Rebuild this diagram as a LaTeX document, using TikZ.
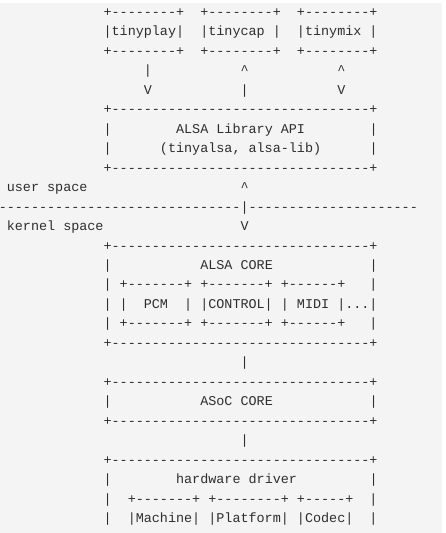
\documentclass[tikz,border=0pt]{standalone}
\usepackage{fontspec}
\setmonofont{Liberation Mono}
\definecolor{bg}{HTML}{F4F4F4}
\definecolor{txt}{HTML}{2E2E2E}
\begin{document}
\begin{tikzpicture}[x=1pt,y=-1pt,
  ln/.style={anchor=base west, inner sep=0pt, outer sep=0pt, text=txt,
    font=\fontsize{13.43}{19.47}\selectfont\ttfamily}]
\def\cw{8.06}
\def\xo{-1.2}
\def\yo{16.4}
\def\lh{19.47}
\useasboundingbox (0,0) rectangle (445,533);
\fill[white] (0,0) rectangle (445,533);
\fill[bg] (0,3) rectangle (442,533);
% row r (1-based), column c (0-based)
\node[ln] (r1)  at ({\xo+13*\cw},{\yo+0*\lh})  {+--------+~~+--------+~~+--------+};
\node[ln] (r2)  at ({\xo+13*\cw},{\yo+1*\lh})  {|tinyplay|~~|tinycap~|~~|tinymix~|};
\node[ln] (r3)  at ({\xo+13*\cw},{\yo+2*\lh})  {+--------+~~+--------+~~+--------+};
\node[ln] (r4a) at ({\xo+18*\cw},{\yo+3*\lh})  {|};
\node[ln] (r4b) at ({\xo+30*\cw},{\yo+3*\lh})  {\textasciicircum};
\node[ln] (r4c) at ({\xo+42*\cw},{\yo+3*\lh})  {\textasciicircum};
\node[ln] (r5a) at ({\xo+18*\cw},{\yo+4*\lh})  {V};
\node[ln] (r5b) at ({\xo+30*\cw},{\yo+4*\lh})  {|};
\node[ln] (r5c) at ({\xo+42*\cw},{\yo+4*\lh})  {V};
\node[ln] (r6)  at ({\xo+13*\cw},{\yo+5*\lh})  {+--------------------------------+};
\node[ln] (r7)  at ({\xo+13*\cw},{\yo+6*\lh})  {|~~~~~~~~ALSA Library API~~~~~~~~|};
\node[ln] (r8)  at ({\xo+13*\cw},{\yo+7*\lh})  {|~~~~~~(tinyalsa, alsa-lib)~~~~~~|};
\node[ln] (r9)  at ({\xo+13*\cw},{\yo+8*\lh})  {+--------------------------------+};
\node[ln] (r10a) at ({\xo+1*\cw},{\yo+9*\lh})  {user~space};
\node[ln] (r10b) at ({\xo+30*\cw},{\yo+9*\lh}) {\textasciicircum};
\node[ln] (r11) at ({\xo+0*\cw},{\yo+10*\lh})  {------------------------------|---------------------};
\node[ln] (r12a) at ({\xo+1*\cw},{\yo+11*\lh}) {kernel~space};
\node[ln] (r12b) at ({\xo+30*\cw},{\yo+11*\lh}) {V};
\node[ln] (r13) at ({\xo+13*\cw},{\yo+12*\lh}) {+--------------------------------+};
\node[ln] (r14) at ({\xo+13*\cw},{\yo+13*\lh}) {|~~~~~~~~~~~ALSA CORE~~~~~~~~~~~~|};
\node[ln] (r15) at ({\xo+13*\cw},{\yo+14*\lh}) {|~+-------+~+-------+~+------+~~~|};
\node[ln] (r16) at ({\xo+13*\cw},{\yo+15*\lh}) {|~|~~PCM~~|~|CONTROL|~|~MIDI~|...|};
\node[ln] (r17) at ({\xo+13*\cw},{\yo+16*\lh}) {|~+-------+~+-------+~+------+~~~|};
\node[ln] (r18) at ({\xo+13*\cw},{\yo+17*\lh}) {+--------------------------------+};
\node[ln] (r19) at ({\xo+30*\cw},{\yo+18*\lh}) {|};
\node[ln] (r20) at ({\xo+13*\cw},{\yo+19*\lh}) {+--------------------------------+};
\node[ln] (r21) at ({\xo+13*\cw},{\yo+20*\lh}) {|~~~~~~~~~~~ASoC CORE~~~~~~~~~~~~|};
\node[ln] (r22) at ({\xo+13*\cw},{\yo+21*\lh}) {+--------------------------------+};
\node[ln] (r23) at ({\xo+30*\cw},{\yo+22*\lh}) {|};
\node[ln] (r24) at ({\xo+13*\cw},{\yo+23*\lh}) {+--------------------------------+};
\node[ln] (r25) at ({\xo+13*\cw},{\yo+24*\lh}) {|~~~~~~~~hardware driver~~~~~~~~~|};
\node[ln] (r26) at ({\xo+13*\cw},{\yo+25*\lh}) {|~~+-------+~+--------+~+-----+~~|};
\node[ln] (r27) at ({\xo+13*\cw},{\yo+26*\lh}) {|~~|Machine|~|Platform|~|Codec|~~|};
\end{tikzpicture}
\end{document}
